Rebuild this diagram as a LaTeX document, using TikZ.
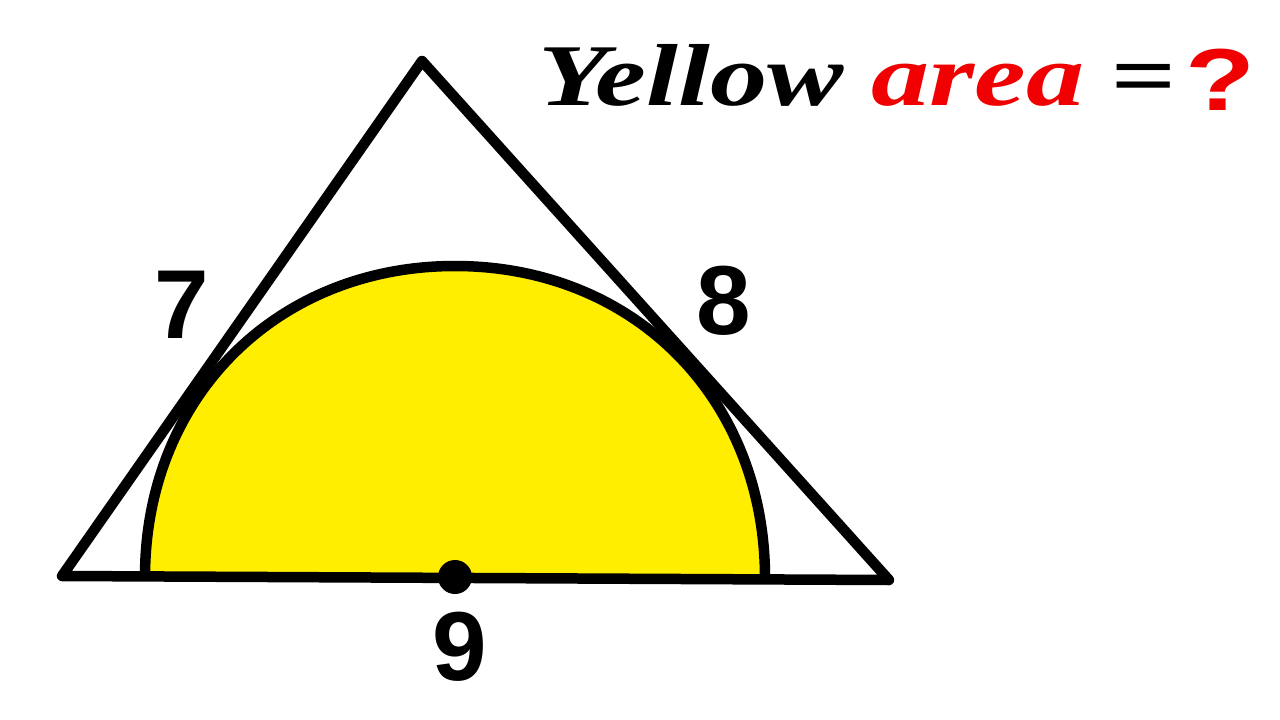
\documentclass[tikz,border=0pt]{standalone}
\usepackage{fontspec}
\usepackage{graphicx}
\setmainfont{Liberation Serif}
\newfontfamily\numfont{Liberation Sans}
\definecolor{semiyellow}{RGB}{255,238,0}
\definecolor{titlered}{RGB}{240,0,0}
\begin{document}
\begin{tikzpicture}[x=1pt,y=-1pt,
  edge/.style={line width=10.5pt, line join=round, line cap=round, black},
  numlabel/.style={font=\numfont\bfseries\fontsize{98}{98}\selectfont, anchor=base, inner sep=0pt},
  titleword/.style={font=\bfseries\itshape\fontsize{88}{88}\selectfont, anchor=base, inner sep=0pt}]
\useasboundingbox[fill=white] (0,0) rectangle (1280,720);
% triangle vertices
\coordinate (L) at (62,576);
\coordinate (A) at (422,61);
\coordinate (R) at (889,580);
% semicircle
\coordinate (SL) at (145,577);
\coordinate (ST) at (455,266);
\coordinate (SR) at (765,578);
\fill[semiyellow] (SL) .. controls (145,397) and (277,266) .. (ST)
  .. controls (633,266) and (765,397) .. (SR) -- cycle;
\draw[edge, line cap=butt] (SL) .. controls (145,397) and (277,266) .. (ST)
  .. controls (633,266) and (765,397) .. (SR);
\draw[edge] (L) -- (A) -- (R) -- cycle;
\fill (455,577) circle[radius=17];
% labels
\node[numlabel] (n7) at (182,338) {7};
\node[numlabel] (n8) at (724,334) {8};
\node[numlabel] (n9) at (460,680) {9};
% title
\node[titleword] (t1) at (691,105) {\scalebox{1.3}[1]{Yellow}};
\node[titleword, text=titlered] (t2) at (978,105) {\scalebox{1.32}[1]{area}};
\node[titleword] (t3) at (1143,105) {\scalebox{1.3}[1]{=}};
\node[font=\numfont\bfseries\fontsize{88}{88}\selectfont, anchor=base, inner sep=0pt, text=titlered] (t4) at (1220,110) {\scalebox{1.3}[1]{?}};
\end{tikzpicture}
\end{document}
